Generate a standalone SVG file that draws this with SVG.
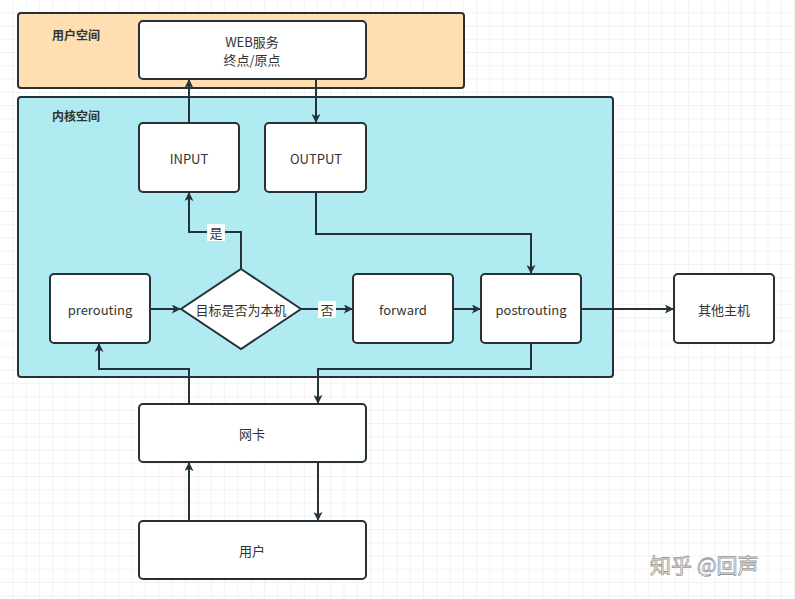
<svg xmlns="http://www.w3.org/2000/svg" width="795" height="599" viewBox="0 0 795 599">
<defs>
<pattern id="g" width="13.25" height="13.25" patternUnits="userSpaceOnUse"><path d="M13.25 0V13.25H0" fill="none" stroke="#e6e6e6" stroke-width="1"/></pattern>
<marker id="a" viewBox="0 0 10 10" refX="9" refY="5" markerWidth="9" markerHeight="9" orient="auto" markerUnits="userSpaceOnUse"><path d="M0 0L10 5L0 10L2.5 5z" fill="#263238"/></marker>
</defs>
<style>
.n{fill:#fff;stroke:#263238;stroke-width:2}
.t{font-family:"Noto Sans CJK SC","Noto Sans",sans-serif;font-size:13px;fill:#333;text-anchor:middle;dominant-baseline:central}
.b{font-family:"Noto Sans CJK SC",sans-serif;font-size:12px;font-weight:bold;fill:#333}
.c{fill:none;stroke:#263238;stroke-width:2;marker-end:url(#a)}
</style>
<rect width="795" height="599" fill="#fff"/>
<rect width="795" height="599" fill="url(#g)"/>
<g id="userspace"><rect x="18" y="13" width="446" height="75" rx="3" fill="#ffdfb2" stroke="#263238" stroke-width="2"/><text class="b" x="52" y="40">用户空间</text></g>
<g id="kernelspace"><rect x="18" y="97" width="595" height="280" rx="3" fill="#b1ebf2" stroke="#263238" stroke-width="2"/><text class="b" x="52" y="121">内核空间</text></g>
<g id="web"><rect class="n" x="139" y="21" width="227" height="58" rx="4"/><text class="t" x="252" y="41" font-size="12.5">WEB服务</text><text class="t" x="252" y="59" font-size="12.5">终点/原点</text></g>
<g id="input"><rect class="n" x="139" y="123" width="100" height="69" rx="4"/><text class="t" x="189" y="158">INPUT</text></g>
<g id="output"><rect class="n" x="265" y="123" width="101" height="69" rx="4"/><text class="t" x="316" y="158">OUTPUT</text></g>
<g id="prerouting"><rect class="n" x="50" y="274" width="100" height="69" rx="4"/><text class="t" x="100" y="309">prerouting</text></g>
<g id="decision"><path class="n" d="M241 269L301 309L241 349L181 309z"/><text class="t" x="241" y="309">目标是否为本机</text></g>
<g id="forward"><rect class="n" x="353" y="274" width="100" height="69" rx="4"/><text class="t" x="403" y="309">forward</text></g>
<g id="postrouting"><rect class="n" x="481" y="274" width="100" height="69" rx="4"/><text class="t" x="531" y="309">postrouting</text></g>
<g id="other"><rect class="n" x="674" y="274" width="100" height="69" rx="4"/><text class="t" x="724" y="309">其他主机</text></g>
<g id="nic"><rect class="n" x="139" y="404" width="227" height="58" rx="4"/><text class="t" x="252" y="433">网卡</text></g>
<g id="user"><rect class="n" x="139" y="521" width="227" height="58" rx="4"/><text class="t" x="252" y="550">用户</text></g>
<g id="connectors">
<path class="c" d="M189 123V80"/>
<path class="c" d="M316 79V122"/>
<path class="c" d="M316 192V234H531V273"/>
<path class="c" d="M241 269V232H189V193"/>
<path class="c" d="M150 309H180"/>
<path class="c" d="M301 309H352"/>
<path class="c" d="M453 309H480"/>
<path class="c" d="M581 309H673"/>
<path class="c" d="M531 343V369H318V403"/>
<path class="c" d="M189 404V369H99V344"/>
<path class="c" d="M189 521V463"/>
<path class="c" d="M318 462V520"/>
<rect x="207" y="224" width="18" height="17" fill="#fff"/><text class="t" x="216" y="232">是</text>
<rect x="318" y="301" width="18" height="17" fill="#fff"/><text class="t" x="327" y="309">否</text>
</g>
<text x="650" y="573" font-family="Noto Sans CJK SC,sans-serif" font-size="21" fill="#fff" stroke="#999" stroke-width="0.8">知乎 @回声</text>
</svg>
